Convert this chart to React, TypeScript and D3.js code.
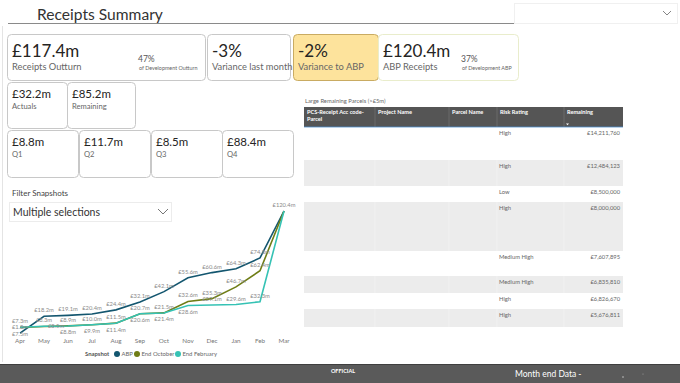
import React from "react";
import * as d3 from "d3";

const months = ["Apr", "May", "Jun", "Jul", "Aug", "Sep", "Oct", "Nov", "Dec", "Jan", "Feb", "Mar"];
const abp = [1.8, 18.2, 19.1, 20.4, 24.4, 32.1, 42.1, 55.6, 60.6, 64.3, 74.8, 120.4];
const endOct = [7.3, 8.3, 8.9, 10.0, 11.5, 20.7, 21.5, 32.6, 35.3, 46.7, 62.4, 120.4];
const endFeb = [7.5, 8.5, 8.8, 9.9, 11.4, 20.6, 21.4, 28.6, 29.1, 29.6, 32.3, 120.4];
const seriesNames = ["ABP", "End October", "End February"];
// label placement per point: a = above, b = below, r = right, n = none
const abpPlace = ["a", "a", "a", "a", "a", "a", "a", "a", "a", "a", "a", "a"];
const octPlace = ["a", "a", "a", "a", "a", "a", "a", "a", "a", "a", "a", "n"];
const febPlace = ["b", "r", "b", "b", "b", "b", "b", "b", "a", "a", "a", "n"];

const riskRatings = ["High", "High", "Low", "High", "Medium High", "Medium High", "High", "High"];
const remaining = ["£14,211,760", "£12,484,123", "£8,500,000", "£8,000,000", "£7,607,895", "£6,835,810", "£6,826,670", "£5,676,811"];
const tableHeaders = ["PCS-Receipt Acc code-|Parcel", "Project Name", "Parcel Name", "Risk Rating", "Remaining"];

const FONT = "Lato, 'Open Sans', sans-serif";
const colors = ["#13566f", "#6f7d16", "#35c2b4"];

function Card({ x, y, w, h, value, label, vs, ls, vy, ly, fill = "#fff", stroke = "#c8c8c8", pct, pctLabel, px }: any) {
  return (
    <g>
      <rect x={x + 0.5} y={y + 0.5} width={w} height={h} rx={4} fill={fill} stroke={stroke} />
      <text x={x + 5} y={y + vy} fontSize={vs} fill="#252423" fontFamily={FONT}>{value}</text>
      <text x={x + 5} y={y + ly} fontSize={ls} fill="#666" fontFamily={FONT}>{label}</text>
      {pct && (
        <g>
          <text x={px} y={y + 28} fontSize={8.5} fill="#555" fontFamily={FONT}>{pct}</text>
          <text x={px + 1} y={y + 35.5} fontSize={5.4} fill="#666" fontFamily={FONT}>{pctLabel}</text>
        </g>
      )}
    </g>
  );
}

export default function App() {
  const x = d3.scalePoint<string>().domain(months).range([20, 284]);
  const y = d3.scaleLinear().domain([0, 120.4]).range([335, 211]);
  const line = d3.line<number>().x((_, i) => x(months[i])!).y((d) => y(d));
  const series = [abp, endOct, endFeb];
  const places = [abpPlace, octPlace, febPlace];
  const fmt = (v: number) => `£${v.toFixed(1)}m`;

  const colX = [304, 375, 449, 497, 564, 623];
  const rowTops = [127, 160, 186, 202, 251, 276, 293, 309, 327];
  const r1 = { vs: 17, ls: 9.3, vy: 23, ly: 36 };
  const r2 = { vs: 11.5, ls: 7.6, vy: 15.5, ly: 27 };

  return (
    <div style={{ position: "absolute", left: 0, top: 0 }}>
      <svg width={680} height={383} style={{ display: "block", background: "#fff" }}>
        {/* title */}
        <text x={37} y={19.5} fontSize={15.6} fill="#333" fontFamily={FONT}>Receipts Summary</text>
        <line x1={8} x2={676} y1={23.5} y2={23.5} stroke="#8a8a8a" strokeWidth={1.2} />
        <rect x={514.5} y={3.5} width={163} height={20} fill="none" stroke="#f0f0f0" />
        <path d="M663,11 l4,4 l4,-4" fill="none" stroke="#777" strokeWidth={0.9} />
        <line x1={2.5} x2={2.5} y1={26} y2={362} stroke="#e4e4e4" />

        {/* KPI cards row 1 */}
        <Card x={7} y={34} w={198} h={46} value="£117.4m" label="Receipts Outturn" {...r1} pct="47%" pctLabel="of Development Outturn" px={138} />
        <Card x={207} y={34} w={83} h={46} value="-3%" label="Variance last month" {...r1} />
        <Card x={293} y={34} w={85} h={46} value="-2%" label="Variance to ABP" {...r1} fill="#fde39c" stroke="#c9ab62" />
        <Card x={378} y={34} w={140} h={46} value="£120.4m" label="ABP Receipts" {...r1} stroke="#e9edcc" pct="37%" pctLabel="of Development ABP" px={461} />

        {/* row 2 */}
        <Card x={7} y={82} w={60} h={46} value="£32.2m" label="Actuals" {...r2} />
        <Card x={67} y={82} w={68} h={46} value="£85.2m" label="Remaining" {...r2} />

        {/* quarter cards */}
        <Card x={7} y={130} w={71} h={47} value="£8.8m" label="Q1" {...r2} />
        <Card x={79} y={130} w={71} h={47} value="£11.7m" label="Q2" {...r2} />
        <Card x={151} y={130} w={71} h={47} value="£8.5m" label="Q3" {...r2} />
        <Card x={222} y={130} w={71} h={47} value="£88.4m" label="Q4" {...r2} />

        {/* filter */}
        <text x={12} y={196} fontSize={8} fill="#444" fontFamily={FONT}>Filter Snapshots</text>
        <rect x={9.5} y={202.5} width={162} height={19} fill="#fff" stroke="#ececec" />
        <text x={13} y={215.5} fontSize={10.5} fill="#333" fontFamily={FONT}>Multiple selections</text>
        <path d="M158,209 l5,5 l5,-5" fill="none" stroke="#666" strokeWidth={0.9} />

        {/* chart */}
        {series.map((s, si) => (
          <path key={si} d={line(s)!} fill="none" stroke={colors[si]} strokeWidth={1.6} />
        ))}
        {series.map((s, si) =>
          s.map((v, i) => {
            const p = places[si][i];
            if (p === "n") return null;
            const px = x(months[i])!;
            const py = y(v);
            let tx = px, ty = py - 4, anchor: any = "middle";
            if (p === "b") ty = py + 8.5;
            if (p === "r") { tx = px + 4; ty = py + 2; anchor = "start"; }
            return (
              <text key={`${si}-${i}`} x={tx} y={ty} fontSize={5.8} fill="#8a8a8a" textAnchor={anchor} fontFamily={FONT}>{fmt(v)}</text>
            );
          })
        )}
        {months.map((m) => (
          <text key={m} x={x(m)!} y={343} fontSize={6.3} fill="#777" textAnchor="middle" fontFamily={FONT}>{m}</text>
        ))}
        {/* legend */}
        <text x={85} y={356} fontSize={5.9} fill="#555" fontWeight="bold" fontFamily={FONT}>Snapshot</text>
        {(() => {
          const lx = [117, 137, 178];
          return seriesNames.map((n, i) => (
            <g key={n}>
              <circle cx={lx[i]} cy={354} r={3} fill={colors[i]} />
              <text x={lx[i] + 4.5} y={356.2} fontSize={5.9} fill="#666" fontFamily={FONT}>{n}</text>
            </g>
          ));
        })()}

        {/* table */}
        <text x={305} y={102.5} fontSize={5.8} fill="#666" fontFamily={FONT}>Large Remaining Parcels (&gt;£5m)</text>
        <rect x={colX[0]} y={107} width={colX[5] - colX[0]} height={20} fill="#555" />
        {colX.slice(1, 5).map((cx) => (
          <line key={cx} x1={cx} x2={cx} y1={107} y2={127} stroke="#6a6a6a" />
        ))}
        <line x1={colX[0]} x2={colX[5]} y1={127} y2={127} stroke="#4b8fd0" strokeWidth={0.8} />
        {tableHeaders.map((h, i) => (
          <text key={h} x={colX[i] + 3} y={114} fontSize={5.6} fill="#fff" fontWeight="bold" fontFamily={FONT}>
            {h.split("|").map((t, j) => (
              <tspan key={j} x={colX[i] + 3} dy={j === 0 ? 0 : 7}>{t}</tspan>
            ))}
          </text>
        ))}
        <path d="M566,123.5 h3 l-1.5,1.8 z" fill="#fff" />
        {riskRatings.map((r, i) => {
          const top = rowTops[i];
          const bot = rowTops[i + 1];
          const gray = i % 2 === 1;
          return (
            <g key={i}>
              {gray && <rect x={colX[0]} y={top} width={colX[5] - colX[0]} height={bot - top} fill="#ececec" />}
              {gray && colX.slice(1, 5).map((cx) => (
                <line key={cx} x1={cx} x2={cx} y1={top} y2={bot} stroke="#f4f4f4" strokeWidth={0.8} />
              ))}
              <text x={colX[3] + 2} y={top + 7.5} fontSize={5.8} fill="#666" fontFamily={FONT}>{r}</text>
              <text x={colX[5] - 3} y={top + 7.5} fontSize={5.8} fill="#666" textAnchor="end" fontFamily={FONT}>{remaining[i]}</text>
            </g>
          );
        })}

        {/* footer */}
        <rect x={0} y={364} width={680} height={19} fill="#5a5a5a" />
        <line x1={0} x2={680} y1={364.5} y2={364.5} stroke="#3f3f3f" />
        <text x={343} y={372.5} fontSize={5.5} fill="#fff" fontWeight="bold" textAnchor="middle" fontFamily={FONT}>OFFICIAL</text>
        <text x={515} y={377} fontSize={8.5} fill="#fff" fontFamily={FONT}>Month end Data -</text>
        <circle cx={623} cy={377} r={0.7} fill="#ddd" />
        <circle cx={643} cy={374} r={0.5} fill="#aaa" />
      </svg>
    </div>
  );
}
